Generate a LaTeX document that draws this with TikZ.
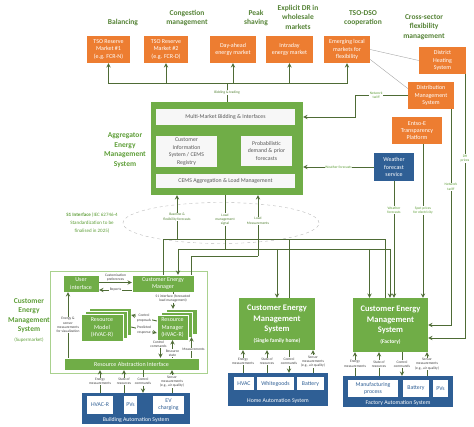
\documentclass[tikz,border=0pt]{standalone}
\usepackage{fontspec}
\setmainfont{Carlito}
\usepackage{tikz}
\usetikzlibrary{shapes.geometric, arrows, positioning, calc}
\definecolor{orangec}{HTML}{ED7D31}
\definecolor{greenc}{HTML}{70AD47}
\definecolor{dkgreen}{HTML}{548235}
\definecolor{lblgreen}{HTML}{5E9E38}
\definecolor{ltgreen}{HTML}{A9D18E}
\definecolor{bluec}{HTML}{2F5F95}
\definecolor{linec}{HTML}{4E6B35}

\begin{document}
\begin{tikzpicture}[x=1pt, y=-1pt,
    topic/.style={text=dkgreen, font=\bfseries\fontsize{7.5}{9.5}\selectfont, align=center},
    side/.style={text=lblgreen, font=\bfseries\fontsize{7.5}{9.5}\selectfont, align=center},
    mkt/.style={rectangle, fill=orangec, text=white, font=\fontsize{6}{7.3}\selectfont, align=center, inner sep=1pt, minimum height=27pt},
    aggbox/.style={rectangle, fill=greenc},
    inbox/.style={rectangle, fill=gray!6, text=gray!70!black, font=\fontsize{5.8}{7.5}\selectfont, align=center, inner sep=1pt},
    gbox/.style={rectangle, fill=greenc, draw=white, line width=0.4pt, text=white, font=\fontsize{6}{7.6}\selectfont, align=center, inner sep=1pt},
    cbox/.style={rectangle, fill=greenc, text=white, font=\bfseries\fontsize{8.5}{10.5}\selectfont, align=center, inner sep=1pt},
    bbox/.style={rectangle, fill=bluec, text=white, font=\fontsize{5.8}{7}\selectfont, align=center, inner sep=1pt},
    dev/.style={rectangle, fill=white, text=bluec, font=\fontsize{5.8}{7}\selectfont, align=center, inner sep=0.5pt},
    wire/.style={draw=linec, line width=0.9pt},
    arrow/.style={wire, ->, >=stealth},
    thinl/.style={draw=gray!70, line width=0.4pt},
    lbl/.style={fill=white, inner sep=0.6pt, text=lblgreen, font=\fontsize{3.6}{4.3}\selectfont, align=center},
    tlbl/.style={lbl, text=black!75}
]
\useasboundingbox (0,0) rectangle (474,427);

\node[topic] (tbal) at (123,23) {Balancing};
\node[topic] (tcon) at (187,18) {Congestion\\management};
\node[topic] (tpk) at (256,18) {Peak\\shaving};
\node[topic] (tdr) at (298,17) {Explicit DR in\\wholesale\\markets};
\node[topic] (ttd) at (363,18) {TSO-DSO\\cooperation};
\node[topic] (tcs) at (424,27) {Cross-sector\\flexibility\\management};

\node[mkt, minimum width=43pt] (m1) at (108.5,49.5) {TSO Reserve\\Market \#1\\(e.g. FCR-N)};
\node[mkt, minimum width=44pt] (m2) at (166,49.5) {TSO Reserve\\Market \#2\\(e.g. FCR-D)};
\node[mkt, minimum width=46pt] (m3) at (233,49.5) {Day-ahead\\energy market};
\node[mkt, minimum width=47pt] (m4) at (289.5,49.5) {Intraday\\energy market};
\node[mkt, minimum width=46pt] (m5) at (347,49.5) {Emerging local\\markets for\\flexibility};
\node[mkt, minimum width=47pt] (dhs) at (442.5,60.5) {District\\Heating\\System};
\node[mkt, minimum width=46pt] (dms) at (431,95.5) {Distribution\\Management\\System};
\node[mkt, minimum width=50pt] (entso) at (417,130.5) {Entso-E\\Transparency\\Platform};
\node[bbox, font=\fontsize{6}{7.6}\selectfont, minimum width=40pt, minimum height=28pt] (wfs) at (394,167) {Weather\\forecast\\service};

\node[aggbox, minimum width=152pt, minimum height=93pt] (agg) at (227,148.5) {};
\node[inbox, minimum width=139pt, minimum height=16pt] (mmb) at (225.5,117) {Multi-Market Bidding \& Interfaces};
\node[inbox, minimum width=61pt, minimum height=31pt] (cis) at (186.5,151.5) {Customer\\Information\\System / CEMS\\Registry};
\node[inbox, minimum width=51pt, minimum height=30pt] (pdf) at (266.5,151) {Probabilistic\\demand \& prior\\forecasts};
\node[inbox, minimum width=139pt, minimum height=14pt] (cal) at (225.5,181) {CEMS Aggregation \& Load Management};
\node[side] (tagg) at (125,150) {Aggregator\\Energy\\Management\\System};

\coordinate (bus) at (227,83);
\draw[wire] (agg.north) -- node[lbl, text=dkgreen]{Bidding \& trading} (bus);
\draw[arrow] (bus) -| (m1.south);
\draw[arrow] (bus) -| (m2.south);
\draw[arrow] (bus) -| (m3.south);
\draw[arrow] (bus) -| (m4.south);
\draw[arrow] (bus) -| (m5.south);
\draw[thinl] (m5.east) -- (dhs.west);
\draw[thinl] ([yshift=-10pt]m5.east) -- ([yshift=7pt]dms.west);

\coordinate (ntc) at (355,95.5);
\draw[arrow] (dms.west) -- node[lbl, pos=0.6]{Network\\tariff} (ntc) |- (agg.east |- mmb.east);
\draw[arrow] (wfs.west) -- node[lbl]{Weather forecasts} (agg.east |- wfs.west);

\node[side, font=\fontsize{5}{8}\selectfont] (s1t) at (92,223) {\textbf{S1 Interface} (IEC 62746-4\\Standardization to be\\finalised in 2025)};
\node[draw=gray!55, dashed, ellipse, minimum width=196pt, minimum height=41pt] (s1) at (221,223) {};

% customer side
\node[draw=ltgreen, line width=1pt, minimum width=157pt, minimum height=102pt] (smb) at (128.5,323) {};
\node[side, font=\bfseries\fontsize{7.5}{9.5}\selectfont] (tsm) at (29,320) {Customer\\Energy\\Management\\System\\{\mdseries\fontsize{5}{7}\selectfont(Supermarket)}};
\node[gbox, minimum width=36pt, minimum height=17pt] (ui) at (81,283.5) {User\\interface};
\node[gbox, minimum width=62pt, minimum height=17pt] (cem) at (163,283.5) {Customer Energy\\Manager};
\node[gbox, minimum width=42pt, minimum height=27pt] (rmod3) at (110,321.5) {};
\node[gbox, minimum width=42pt, minimum height=27pt] (rmod2) at (106,324.5) {};
\node[gbox, minimum width=42pt, minimum height=27pt] (rmod) at (102,327.5) {Resource\\Model\\(HVAC-R)};
\node[gbox, minimum width=31pt, minimum height=25pt] (rman3) at (181.5,321.5) {};
\node[gbox, minimum width=31pt, minimum height=25pt] (rman2) at (177,324.5) {};
\node[gbox, minimum width=31pt, minimum height=25pt] (rman) at (172.5,327.5) {Resource\\Manager\\(HVAC-R)};
\node[gbox, minimum width=135pt, minimum height=12pt] (rai) at (131.5,364) {Resource Abstraction Interface};

\node[bbox, minimum width=108pt, minimum height=31pt] (bas) at (136,408.5) {};
\node[dev, minimum width=26pt, minimum height=18pt] (hvacr) at (100,405) {HVAC-R};
\node[dev, minimum width=13pt, minimum height=18pt] (pvs) at (130.5,405) {PVs};
\node[dev, minimum width=31pt, minimum height=18pt] (evc) at (168.5,405) {EV\\charging};
\node[bbox, fill=none] (basl) at (136,419.5) {Building Automation System};

\draw[arrow] ([yshift=1pt]ui.east) -- node[tlbl, above=0.5pt, fill=none]{Customisation\\preferences} ([yshift=1pt]cem.west);
\draw[arrow] ([yshift=-6.5pt]cem.west) -- node[tlbl]{Reports} ([yshift=-6.5pt]ui.east);
\draw[arrow] ([xshift=10pt]cem.south) -- node[tlbl, pos=0.4]{S1 interface (forecasted\\load management)} ([xshift=10pt]cem.south |- rman3.north);
\draw[arrow] ([yshift=6.5pt]rman.west) -- node[tlbl]{Control\\proposals} ([yshift=6.5pt]rmod3.east);
\draw[arrow] ([yshift=-5.5pt]rmod3.east) -- node[tlbl]{Predicted\\response} ([yshift=-5.5pt]rman.west);
\draw[arrow] ([xshift=-13pt]ui.south |- rai.north) -- node[tlbl]{Energy \&\\sensor\\measurements\\for visualization} ([xshift=-13pt]ui.south);
\draw[arrow] ([xshift=-12pt]rman.south) -- node[tlbl, pos=0.22, xshift=-2pt]{Control\\commands} ([xshift=-12pt]rman.south |- rai.north);
\draw[arrow] (rman.south |- rai.north) -- node[tlbl, pos=0.25]{Resource\\state} (rman.south);
\draw[arrow] ([xshift=19pt]rman.south |- rai.north) -- node[tlbl, pos=0.4, xshift=2pt]{Measurements} ([xshift=19pt]rman.south |- rman2.south);

\draw[arrow] ([xshift=-36pt]bas.north) -- node[tlbl]{Energy\\measurements} ([xshift=-36pt]bas.north |- rai.south);
\draw[arrow] ([xshift=-12pt]bas.north) -- node[tlbl]{State of\\resources} ([xshift=-12pt]bas.north |- rai.south);
\draw[arrow] ([xshift=7pt]bas.north |- rai.south) -- node[tlbl]{Control\\commands} ([xshift=7pt]bas.north);
\draw[arrow] ([xshift=36pt]bas.north) -- node[tlbl]{Sensor\\measurements\\(e.g., air quality)} ([xshift=36pt]bas.north |- rai.south);

\node[cbox, minimum width=76pt, minimum height=52pt] (home) at (277,324) {Customer Energy\\Management\\System\\{\fontsize{5.5}{8}\selectfont(Single family home)}};
\node[bbox, minimum width=100pt, minimum height=33pt] (has) at (278,389.5) {};
\node[dev, minimum width=20pt, minimum height=13pt] (hvac) at (244,384) {HVAC};
\node[dev, minimum width=37pt, minimum height=13pt] (wg) at (275.5,384) {Whitegoods};
\node[dev, minimum width=27pt, minimum height=13pt] (hbat) at (310.5,384) {Battery};
\node[bbox, fill=none] (hasl) at (278,400.5) {Home Automation System};

\draw[arrow] ([xshift=-34pt]home.south |- has.north) -- node[tlbl]{Energy\\measurements} ([xshift=-34pt]home.south);
\draw[arrow] ([xshift=-10pt]home.south |- has.north) -- node[tlbl]{State of\\resources} ([xshift=-10pt]home.south);
\draw[arrow] ([xshift=12pt]home.south) -- node[tlbl]{Control\\commands} ([xshift=12pt]home.south |- has.north);
\draw[arrow] ([xshift=36pt]home.south |- has.north) -- node[tlbl]{Sensor\\measurements\\(e.g., air quality)} ([xshift=36pt]home.south);

\node[cbox, minimum width=75pt, minimum height=54pt] (fac) at (390.5,325) {Customer Energy\\Management\\System\\{\fontsize{5.5}{8}\selectfont(Factory)}};
\node[bbox, minimum width=110pt, minimum height=31pt] (fas) at (398,391.5) {};
\node[dev, minimum width=50pt, minimum height=17pt] (mp) at (373,388.5) {Manufacturing\\process};
\node[dev, minimum width=26pt, minimum height=17pt] (fbat) at (416,388.5) {Battery};
\node[dev, minimum width=15pt, minimum height=17pt] (fpv) at (440.5,388.5) {PVs};
\node[bbox, fill=none] (fasl) at (398,403) {Factory Automation System};

\draw[arrow] ([xshift=-35.5pt]fac.south |- fas.north) -- node[tlbl]{Energy\\measurements} ([xshift=-35.5pt]fac.south);
\draw[arrow] ([xshift=-11.5pt]fac.south |- fas.north) -- node[tlbl]{State of\\resources} ([xshift=-11.5pt]fac.south);
\draw[arrow] ([xshift=11.5pt]fac.south) -- node[tlbl]{Control\\commands} ([xshift=11.5pt]fac.south |- fas.north);
\draw[arrow] ([xshift=36.5pt]fac.south |- fas.north) -- node[tlbl]{Sensor\\measurements\\(e.g., air quality)} ([xshift=36.5pt]fac.south);

% aggregator to customers
\coordinate (ba) at (163,239);
\coordinate (bb) at (385,239);
\coordinate (bl) at (177,239);
\draw[wire] (cem.north) -- (ba) -- (bb) -- (bb |- fac.north);
\draw[wire] ([xshift=12pt]home.north) -- ([xshift=12pt]home.north |- ba);
\draw[arrow] (bl) -- node[lbl, text=dkgreen]{Baseline \&\\flexibility forecasts} (bl |- agg.south);

\coordinate (lm) at (225,249);
\coordinate (bb1) at (178,249);
\coordinate (bb2) at (390,249);
\draw[wire] (lm |- agg.south) -- node[lbl, text=dkgreen, pos=0.45]{Load\\management\\signal} (lm);
\draw[wire] (bb1) -- (bb2);
\draw[arrow] (bb1) -- (bb1 |- cem.north);
\draw[arrow] (bb2) -- (bb2 |- fac.north);
\draw[arrow] (home.north |- bb1) -- (home.north);
\draw[arrow] ([xshift=-21pt]fac.north |- bb1) -- ([xshift=-21pt]fac.north);

\coordinate (bc1) at (191,256);
\coordinate (bc2) at (258,256);
\draw[wire] (bc1 |- cem.north) -- (bc1) -- (bc2);
\draw[arrow] (bc2) -- node[lbl, text=dkgreen, pos=0.58]{Load\\Measurements} (bc2 |- agg.south);

% external signals into the factory
\draw[arrow] (wfs.south) -- node[lbl, pos=0.25]{Weather\\forecasts} (wfs.south |- fac.north);
\draw[arrow] ([xshift=6pt]entso.south) -- node[lbl, pos=0.43]{Spot prices\\for electricity} ([xshift=6pt]entso.south |- fac.north);
\draw[arrow] ([xshift=20pt]dms.south) |- node[lbl, pos=0.18]{Network\\tariff} (fac.east);
\draw[arrow] ([xshift=22.5pt]dhs.south) |- node[lbl, pos=0.16]{DH\\prices} ([yshift=-13pt]fac.east);
\end{tikzpicture}
\end{document}
